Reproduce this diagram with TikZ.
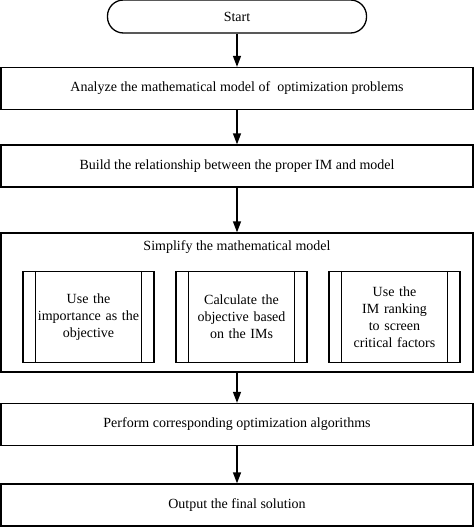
\documentclass[tikz,border=0pt]{standalone}
\usepackage{fontspec}
\setmainfont{Liberation Serif}
\usetikzlibrary{arrows.meta,positioning,calc}

\begin{document}
\begin{tikzpicture}[x=1pt,y=-1pt,
  font=\fontsize{14}{17}\selectfont,
  box/.style={draw, line width=1.3pt, minimum width=472pt, minimum height=42pt, inner sep=0pt},
  subbox/.style={draw, line width=1.3pt, minimum width=131pt, minimum height=91pt, text width=106pt, align=center, inner sep=0pt},
  flow/.style={line width=1.3pt, -{Triangle[width=8pt,length=11pt]}}]
  \useasboundingbox (0,0) rectangle (474,527);

  % Start
  \node[draw, line width=1.3pt, rounded corners=16pt, minimum width=259pt, minimum height=33pt] (start) at (237,16.5) {Start};

  % Main steps
  \node[box] (analyze) at (237,88.5) {Analyze the mathematical model of \ optimization problems};
  \node[box] (build) at (237,166) {Build the relationship between the proper IM and model};

  % Simplify block
  \node[box, minimum height=139pt] (simp) at (237,302.5) {};
  \node (simptitle) at (237,247) {Simplify the mathematical model};
  \node[subbox] (use) at (88.5,317) {Use the\\importance as the\\objective};
  \node[subbox] (calc) at (241.5,317) {Calculate the\\objective based\\on the IMs};
  \node[subbox] (rank) at (394.5,317) {Use the\\IM ranking\\to screen\\critical factors};
  \foreach \n in {use,calc,rank} {
    \draw[line width=1.3pt] ($(\n.north west)+(13,0)$) -- ($(\n.south west)+(13,0)$);
    \draw[line width=1.3pt] ($(\n.north east)+(-13,0)$) -- ($(\n.south east)+(-13,0)$);
  }

  % Final steps
  \node[box] (perform) at (237,424.5) {Perform corresponding optimization algorithms};
  \node[box] (output) at (237,505) {Output the final solution};

  % Arrows
  \draw[flow] (start) -- (analyze);
  \draw[flow] (analyze) -- (build);
  \draw[flow] (build) -- (simp);
  \draw[flow] (simp) -- (perform);
  \draw[flow] (perform) -- (output);
\end{tikzpicture}
\end{document}
